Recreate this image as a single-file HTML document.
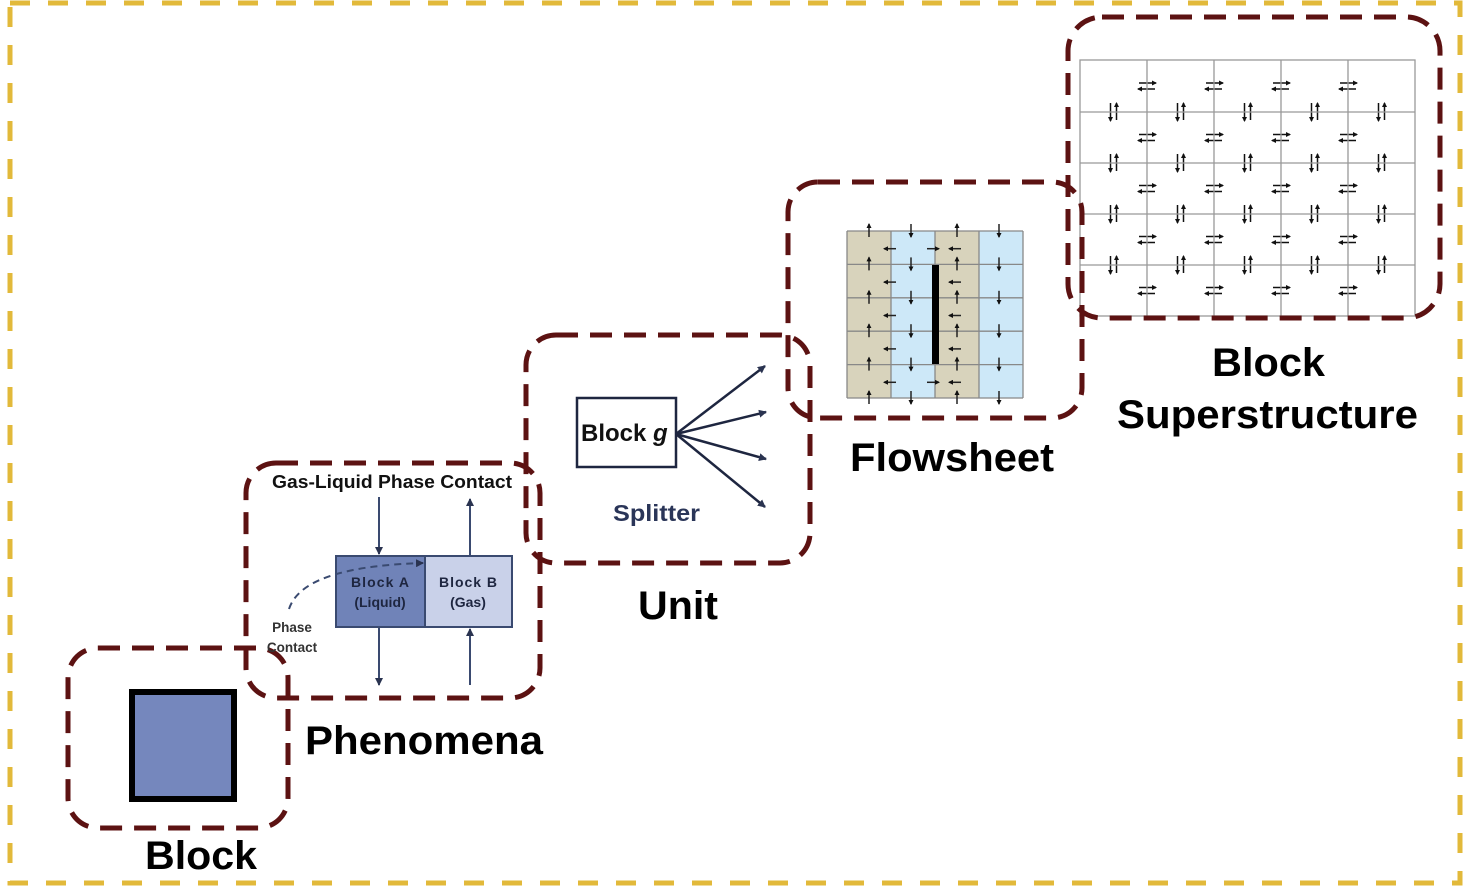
<!DOCTYPE html>
<html><head><meta charset="utf-8"><style>
html,body{margin:0;padding:0;background:#fff;}
svg{display:block;font-family:"Liberation Sans",sans-serif;}
</style></head><body>
<svg id="s" width="1469" height="886" viewBox="0 0 1469 886" xmlns="http://www.w3.org/2000/svg">
<defs>
<marker id="ah" markerWidth="8" markerHeight="8" refX="7" refY="4" orient="auto" markerUnits="userSpaceOnUse"><path d="M0,0 L8,4 L0,8 z" fill="#2a3350"/></marker>
<marker id="sa" markerWidth="5" markerHeight="5" refX="4" refY="2.5" orient="auto" markerUnits="userSpaceOnUse"><path d="M0,0 L5,2.5 L0,5 z" fill="#111"/></marker>
</defs>
<rect x="10" y="3" width="1450" height="880" fill="none" stroke="#e2b93a" stroke-width="5" stroke-dasharray="20 18"/>

<g id="sup" stroke="#999" stroke-width="1.3" fill="none">
<rect x="1080" y="60" width="335" height="256"/>
</g>
<g id="fs">
<rect x="847" y="231" width="44" height="167" fill="#d8d3bc"/>
<rect x="891" y="231" width="44" height="167" fill="#cde8f8"/>
<rect x="935" y="231" width="44" height="167" fill="#d8d3bc"/>
<rect x="979" y="231" width="44" height="167" fill="#cde8f8"/>
</g>

<g fill="none" stroke="#5c1212" stroke-width="5" stroke-dasharray="22 12">
<rect x="68" y="648" width="220" height="180" rx="30"/>
<rect x="246" y="463" width="294" height="235" rx="30"/>
<rect x="526" y="335" width="284" height="228" rx="30"/>
<rect x="788" y="182" width="294" height="236" rx="30"/>
<rect x="1068" y="17" width="372" height="301" rx="34"/>
</g>

<rect x="132" y="692" width="102" height="107" fill="#7587bd" stroke="#000" stroke-width="6"/>

<rect x="336" y="556" width="89" height="71" fill="#7083b8" stroke="#3a4a70" stroke-width="2"/>
<rect x="425" y="556" width="87" height="71" fill="#c9d1e9" stroke="#3a4a70" stroke-width="2"/>
<g stroke="#3a4a70" stroke-width="2" marker-end="url(#ah)">
<line x1="379" y1="497" x2="379" y2="554"/>
<line x1="470" y1="556" x2="470" y2="499"/>
<line x1="379" y1="627" x2="379" y2="685"/>
<line x1="470" y1="685" x2="470" y2="629"/>
</g>
<path d="M289,609 C300,575 360,565 423,563" fill="none" stroke="#3a4a70" stroke-width="2" stroke-dasharray="7 5" marker-end="url(#ah)"/>
<text x="272" y="488" font-size="18" font-weight="bold" textLength="240" lengthAdjust="spacingAndGlyphs" fill="#111">Gas-Liquid Phase Contact</text>
<text x="380" y="587" font-size="14" font-weight="bold" text-anchor="middle" fill="#1e2640" textLength="58">Block A</text>
<text x="380" y="607" font-size="14" font-weight="bold" text-anchor="middle" fill="#1e2640">(Liquid)</text>
<text x="468" y="587" font-size="14" font-weight="bold" text-anchor="middle" fill="#1e2640" textLength="58">Block B</text>
<text x="468" y="607" font-size="14" font-weight="bold" text-anchor="middle" fill="#1e2640">(Gas)</text>
<text x="292" y="632" font-size="13.5" font-weight="bold" text-anchor="middle" fill="#333">Phase</text>
<text x="292" y="652" font-size="13.5" font-weight="bold" text-anchor="middle" fill="#333">Contact</text>

<rect x="577" y="398" width="99" height="69" fill="#fff" stroke="#1e2640" stroke-width="2.5"/>
<text x="581" y="441" font-size="24" font-weight="bold" fill="#111">Block <tspan font-style="italic">g</tspan></text>
<g stroke="#1e2640" stroke-width="2.5" marker-end="url(#ah)">
<line x1="676" y1="434" x2="765" y2="366"/>
<line x1="676" y1="434" x2="766" y2="412"/>
<line x1="676" y1="434" x2="766" y2="459"/>
<line x1="676" y1="434" x2="765" y2="507"/>
</g>
<text x="613" y="521" font-size="23" font-weight="bold" textLength="87" lengthAdjust="spacingAndGlyphs" fill="#2a3558">Splitter</text>

<g font-size="40" font-weight="bold" fill="#000">
<text x="145" y="869" textLength="112" lengthAdjust="spacingAndGlyphs">Block</text>
<text x="305" y="754" textLength="238" lengthAdjust="spacingAndGlyphs">Phenomena</text>
<text x="638" y="619" textLength="80" lengthAdjust="spacingAndGlyphs">Unit</text>
<text x="850" y="471" textLength="204" lengthAdjust="spacingAndGlyphs">Flowsheet</text>
<text x="1212" y="376" textLength="113" lengthAdjust="spacingAndGlyphs">Block</text>
<text x="1117" y="428" textLength="301" lengthAdjust="spacingAndGlyphs">Superstructure</text>
</g>
</svg>
<script>
var NS="http://www.w3.org/2000/svg",s=document.getElementById("s"),sup=document.getElementById("sup"),fs=document.getElementById("fs");
function L(p,x1,y1,x2,y2,c,w,m){var l=document.createElementNS(NS,"line");l.setAttribute("x1",x1);l.setAttribute("y1",y1);l.setAttribute("x2",x2);l.setAttribute("y2",y2);l.setAttribute("stroke",c);l.setAttribute("stroke-width",w);if(m)l.setAttribute("marker-end","url(#sa)");p.appendChild(l);}
var cx=[1080,1147,1214,1281,1348,1415],ry=[60,112,163,214,265,316];
for(var i=1;i<5;i++)L(sup,cx[i],60,cx[i],316,"#999",1.3);
for(var j=1;j<5;j++)L(sup,1080,ry[j],1415,ry[j],"#999",1.3);
var g=document.createElementNS(NS,"g");s.insertBefore(g,s.querySelector("g[fill='none']"));
for(var i=1;i<5;i++)for(var j=0;j<5;j++){var y=(ry[j]+ry[j+1])/2,x=cx[i];L(g,x-8,y-3,x+9,y-3,"#111",1.5,1);L(g,x+8,y+3,x-9,y+3,"#111",1.5,1);}
for(var i=0;i<5;i++)for(var j=1;j<5;j++){var x=(cx[i]+cx[i+1])/2,y=ry[j];L(g,x-3,y-9,x-3,y+9,"#111",1.5,1);L(g,x+3,y+8,x+3,y-9,"#111",1.5,1);}
var fx=[847,891,935,979,1023],fy=[231,264.4,297.8,331.2,364.6,398];
for(var i=1;i<4;i++)L(fs,fx[i],231,fx[i],398,"#888",1.3);
for(var j=0;j<6;j++)L(fs,847,fy[j],1023,fy[j],"#888",1.3);
L(fs,847,231,847,398,"#888",1.3);L(fs,1023,231,1023,398,"#888",1.3);
for(var j=0;j<6;j++){var y=fy[j];L(fs,869,y+6,869,y-7,"#222",1.5,1);L(fs,911,y-7,911,y+6,"#222",1.5,1);L(fs,957,y+6,957,y-7,"#222",1.5,1);L(fs,999,y-7,999,y+6,"#222",1.5,1);}
for(var j=0;j<5;j++){var y=(fy[j]+fy[j+1])/2+1;L(fs,896,y,884,y,"#222",1.5,1);L(fs,961,y,949,y,"#222",1.5,1);if(j==0||j==4)L(fs,927,y,939,y,"#222",1.5,1);}
var b=document.createElementNS(NS,"rect");b.setAttribute("x",932);b.setAttribute("y",265);b.setAttribute("width",7);b.setAttribute("height",99);b.setAttribute("fill","#000");fs.appendChild(b);
</script>
</body></html>
